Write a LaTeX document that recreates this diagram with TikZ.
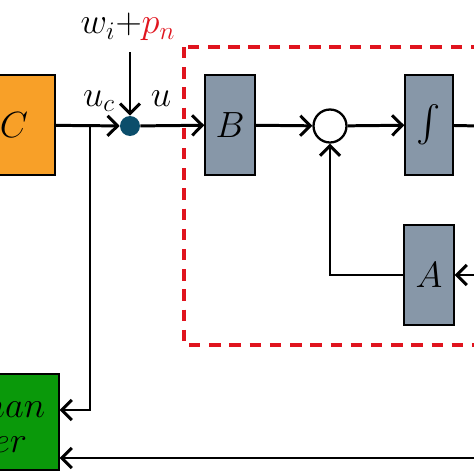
\documentclass[tikz,border=0pt]{standalone}
\usepackage{amsmath,amssymb}
\usepackage{xcolor}
\usetikzlibrary{arrows.meta,positioning,calc}

\definecolor{ctrlorange}{HTML}{F8A028}
\definecolor{blockgray}{HTML}{8797A8}
\definecolor{kfgreen}{HTML}{0A990A}
\definecolor{dotblue}{HTML}{0B4E6B}
\definecolor{boxred}{HTML}{E0141E}

\tikzset{
  block/.style={rectangle, draw, line width=0.8pt, fill=blockgray, minimum width=1cm, minimum height=2cm},
  sig/.style={-{Straight Barb[length=2mm,width=4mm]}, line width=1.7pt},
  wire/.style={line width=1.7pt},
}

\begin{document}
\begin{tikzpicture}[x=0.02cm, y=-0.02cm, every node/.style={font=\huge}]
\useasboundingbox (0,0) rectangle (474,474);
\clip (0,0) rectangle (474,474);
% blocks
\node[rectangle, draw, line width=0.8pt, fill=ctrlorange, minimum width=1.64cm, minimum height=2cm] (ctrl) at (14,125) {$C$};
\node[rectangle, draw, line width=0.8pt, fill=kfgreen, minimum width=3.24cm, minimum height=1.92cm, align=center] (kf) at (-22,422) {$Kalman$\\[-5pt]$Filter$};
\node[circle, fill=dotblue, minimum size=0.4cm, inner sep=0pt] (mix) at (130,126) {};
\node[block] (bmat) at (230,125) {$B$};
\node[circle, draw, line width=1.3pt, fill=white, minimum size=0.66cm, inner sep=0pt] (sum) at (330,126) {};
\node[block, minimum width=0.96cm] (integ) at (429,125) {$\int$};
\node[block] (amat) at (429,275) {$A$};
% labels
\node (noise) at (128,27) {$w_i{+}\textcolor{boxred}{p_n}$};
\node (uc) at (99,101) {$u_c$};
\node (u) at (161,99) {$u$};
% helper points
\coordinate (top) at (130,52);
\coordinate (split) at (90,126);
\coordinate (xout) at (480,126);
\coordinate (xin) at (480,275);
\coordinate (yin) at (480,458);
% dashed plant frame
\draw[boxred, line width=1.9pt, dash pattern=on 6.5pt off 5pt] (184,47) rectangle (520,345);
% signals
\draw[sig] (ctrl) -- (mix);
\draw[sig] (top) -- (mix);
\draw[sig] (mix) -- (bmat);
\draw[sig] (bmat) -- (sum);
\draw[sig] (sum) -- (integ);
\draw[wire] (integ) -- (xout);
\draw[sig] (xin) -- (amat);
\draw[sig] (amat.west) -| (sum.south);
\draw[sig] (split) |- (kf.east |- 0,410);
\draw[sig] (yin) -- (kf.east |- yin);
\end{tikzpicture}
\end{document}
